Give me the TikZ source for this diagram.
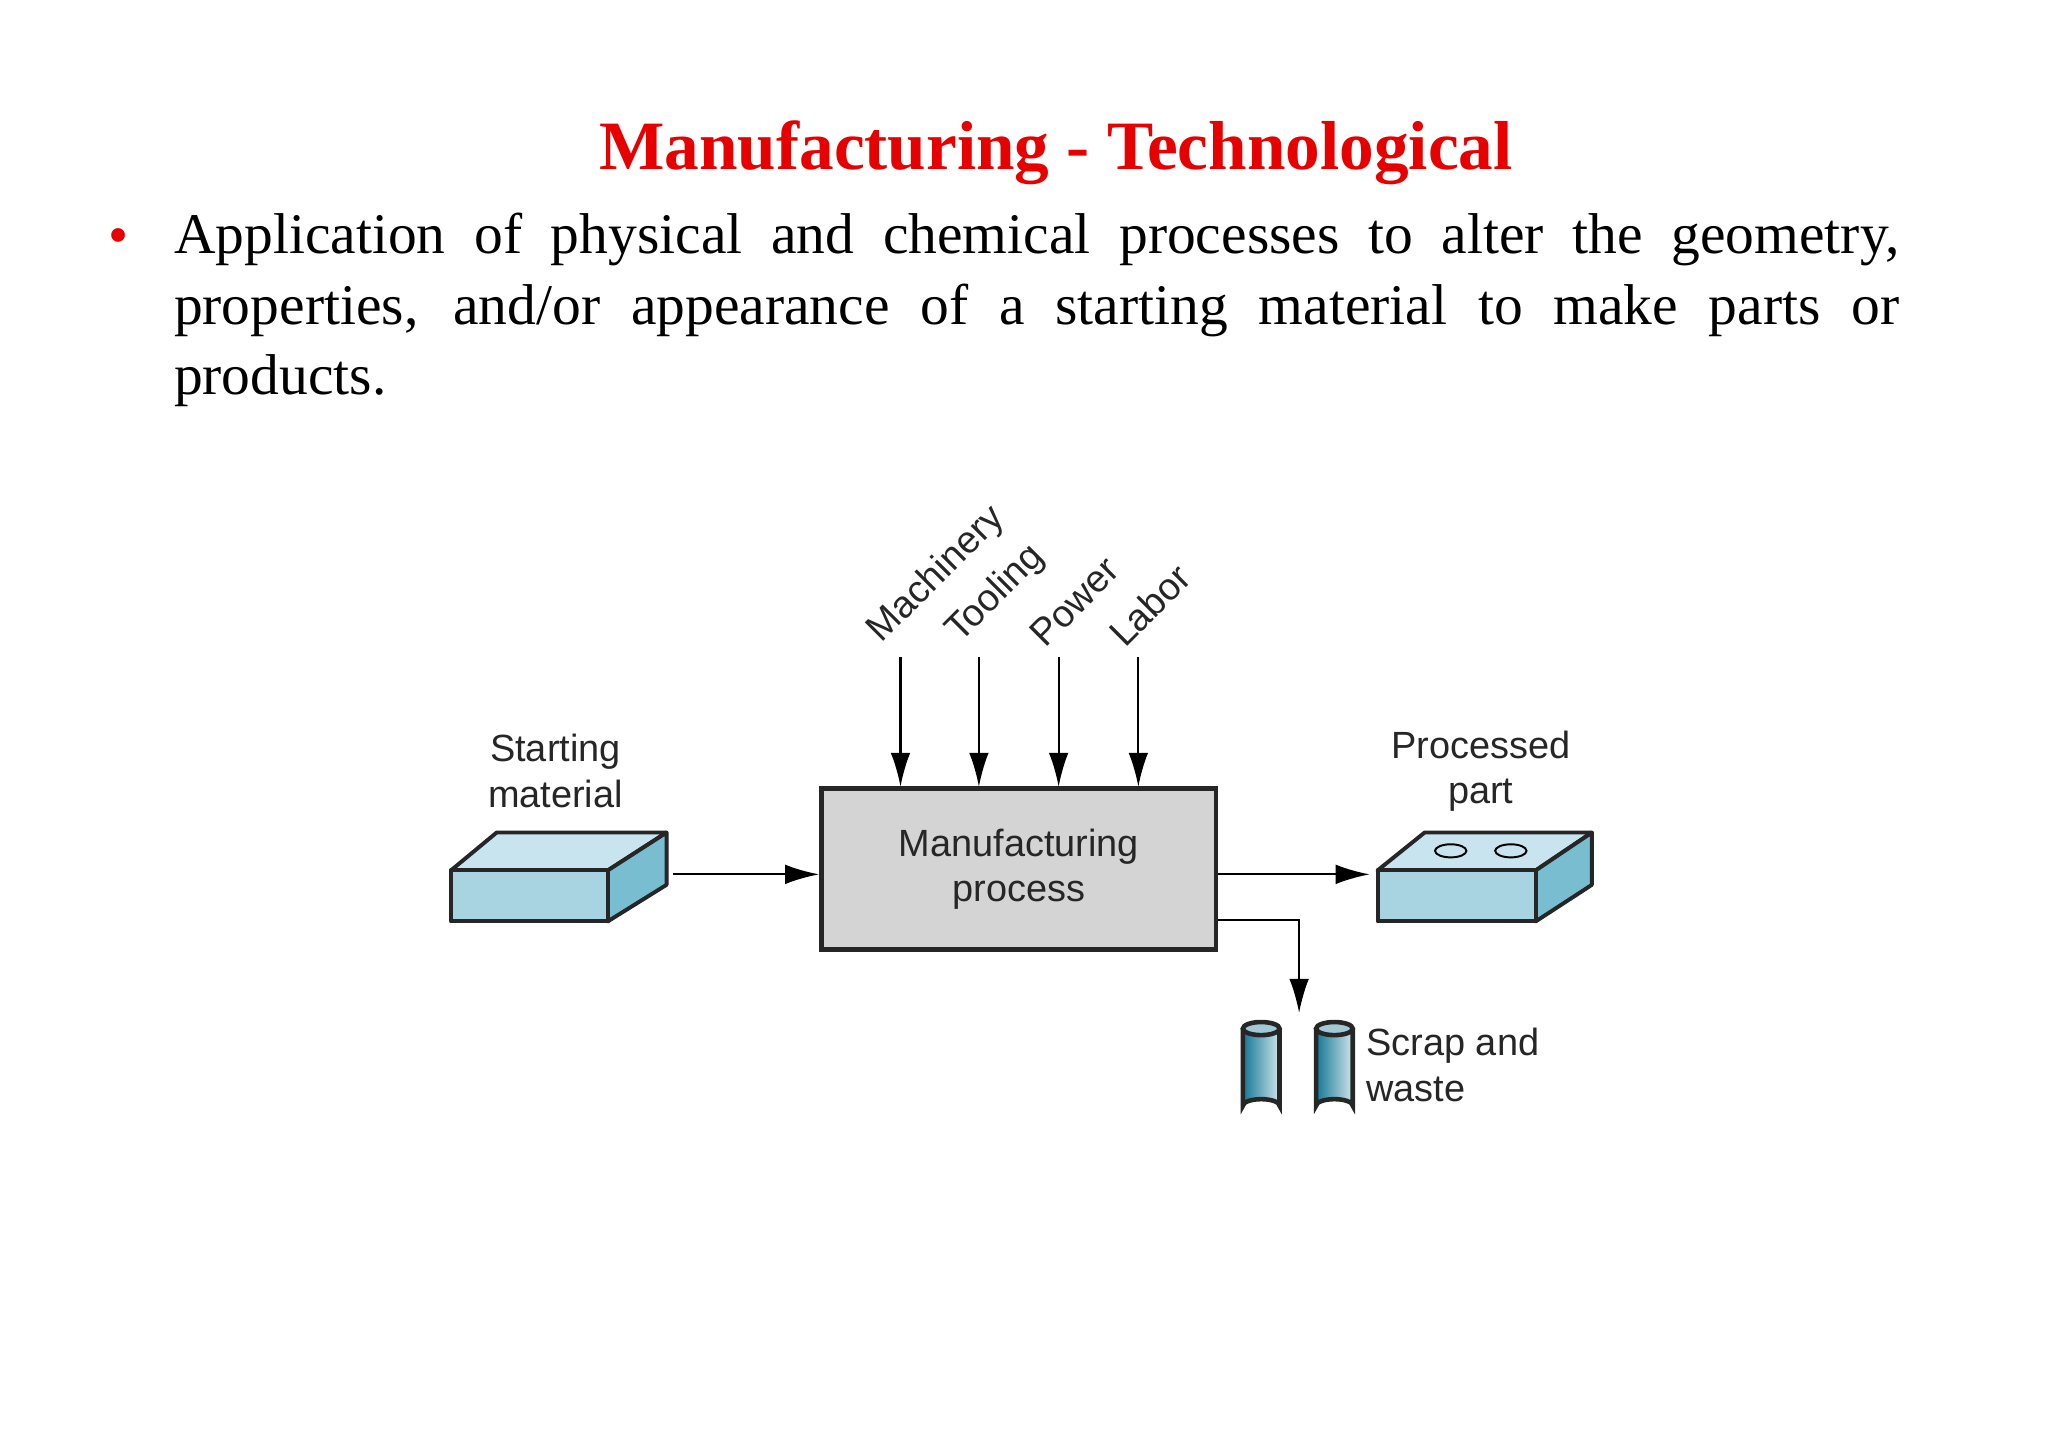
\documentclass[tikz,border=0pt]{standalone}
\usepackage{fontspec}
\setmainfont{Liberation Serif}
\setsansfont{Liberation Sans}
\usetikzlibrary{arrows.meta}
\definecolor{ttl}{RGB}{230,0,0}
\definecolor{btop}{RGB}{200,228,238}
\definecolor{bfront}{RGB}{168,212,226}
\definecolor{bside}{RGB}{120,190,208}
\definecolor{cyl}{RGB}{20,120,150}
\definecolor{boxg}{RGB}{212,212,212}
\tikzset{
  edge/.style={line width=1.6pt,-{Latex[length=26pt,width=15pt]}},
  blk/.style={line width=3pt,line join=round,draw=black!85},
  lbl/.style={font=\sffamily\fontsize{29}{35}\selectfont,align=center,text=black!85},
  rlbl/.style={font=\sffamily\fontsize{29}{35}\selectfont,rotate=45,anchor=south west,inner sep=0pt,text=black!85}
}
\begin{document}
\begin{tikzpicture}[x=1pt,y=-1pt]
\useasboundingbox (0,0) rectangle (1567,1108);
\node[text=ttl,font=\bfseries\fontsize{53}{58}\selectfont] (title) at (808,117) {Manufacturing - Technological};
\node[text=ttl,font=\fontsize{44}{54}\selectfont] (bul) at (91,185) {•};
\node[anchor=north west,inner sep=0pt,text width=1320pt,align=justify,font=\fontsize{44}{54}\selectfont] (txt) at (133,163)
{\hyphenpenalty=10000 Application of physical and chemical processes to alter the geometry,\linebreak properties, and/or appearance of a starting material to make parts or\linebreak products.};
% starting material
\filldraw[blk,fill=btop] (345,666)--(380,637)--(510,637)--(465,666)--cycle;
\filldraw[blk,fill=bside] (465,666)--(510,637)--(510,677)--(465,705)--cycle;
\filldraw[blk,fill=bfront] (345,666) rectangle (465,705);
\coordinate (smr) at (515,669);
\node[lbl] (sml) at (425,590) {Starting\\material};
% process
\node[draw=black!85,line width=3.5pt,fill=boxg,minimum width=302pt,minimum height=123pt,inner sep=0pt,lbl] (proc) at (779.5,665) {Manufacturing\\process};
\draw[edge] (smr) -- (proc.west|-smr);
% inputs
\foreach \x/\t in {689/Machinery,749/Tooling,810/Power,871/Labor}{
  \coordinate (in\x) at (\x,503);
  \draw[edge] (in\x) -- (\x,602);
  \node[rlbl] at (\x-10,497) {\t};
}
% processed part
\coordinate (ppl) at (1048,669);
\draw[edge] (proc.east|-ppl) -- (ppl);
\filldraw[blk,fill=btop] (1054,666)--(1090,637)--(1218,637)--(1175,666)--cycle;
\filldraw[blk,fill=bside] (1175,666)--(1218,637)--(1218,677)--(1175,705)--cycle;
\filldraw[blk,fill=bfront] (1054,666) rectangle (1175,705);
\draw[line width=1.5pt] (1110,651) ellipse (12 and 5) (1156,651) ellipse (12 and 5);
\node[lbl] (ppt) at (1133,590) {Processed\\part};
% scrap
\coordinate (sc) at (994,775);
\draw[edge] (proc.east|-0,704) -- (994,704) -- (sc);
\foreach \x in {965,1021}{
  \shade[left color=cyl,right color=cyl!20!white] (\x-14,787) -- (\x-14,846) arc[start angle=180,end angle=360,x radius=14,y radius=5] -- (\x+14,787) -- cycle;
  \draw[line width=3.5pt,black!85] (\x-14,787) -- (\x-14,846) arc[start angle=180,end angle=360,x radius=14,y radius=5] -- (\x+14,787);
  \filldraw[line width=3.5pt,draw=black!85,fill=cyl!40!white] (\x,787) ellipse (14 and 5);
}
\node[lbl,align=left,anchor=west] (scl) at (1042,815) {Scrap and\\waste};
\end{tikzpicture}
\end{document}
